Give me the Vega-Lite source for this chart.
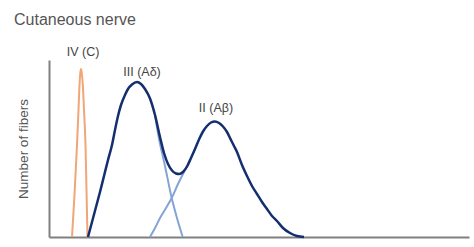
{
  "$schema": "https://vega.github.io/schema/vega-lite/v6.json",
  "width": 420,
  "height": 177,
  "autosize": {"type": "none"},
  "padding": {"left": 49, "top": 60, "right": 5, "bottom": 10},
  "config": {"view": {"stroke": null}, "font": "Liberation Sans"},
  "title": {"text": "Cutaneous nerve", "anchor": "start", "frame": "group", "dx": -35, "offset": 2, "baseline": "bottom", "fontSize": 16, "fontWeight": "normal", "color": "#555555", "font": "Liberation Sans"},
  "datasets": {
    "curves": [
      {"s": "II", "px": 150, "py": 237}, {"s": "II", "px": 155, "py": 228}, {"s": "II", "px": 160, "py": 218}, {"s": "II", "px": 166, "py": 208}, {"s": "II", "px": 171.7, "py": 198}, {"s": "II", "px": 178, "py": 184}, {"s": "II", "px": 183, "py": 174}, {"s": "II", "px": 187, "py": 166.5},
      {"s": "III", "px": 155, "py": 115}, {"s": "III", "px": 158.3, "py": 135}, {"s": "III", "px": 165, "py": 166}, {"s": "III", "px": 171.7, "py": 198}, {"s": "III", "px": 176.7, "py": 217}, {"s": "III", "px": 182.7, "py": 237},
      {"s": "IV", "px": 72, "py": 237}, {"s": "IV", "px": 74.5, "py": 195}, {"s": "IV", "px": 77, "py": 145}, {"s": "IV", "px": 78.5, "py": 110}, {"s": "IV", "px": 79.5, "py": 85}, {"s": "IV", "px": 80.3, "py": 73}, {"s": "IV", "px": 81, "py": 69}, {"s": "IV", "px": 81.8, "py": 73}, {"s": "IV", "px": 82.8, "py": 85}, {"s": "IV", "px": 84, "py": 110}, {"s": "IV", "px": 85.5, "py": 145}, {"s": "IV", "px": 86.5, "py": 190}, {"s": "IV", "px": 87.5, "py": 237},
      {"s": "env", "px": 88, "py": 237}, {"s": "env", "px": 92, "py": 222}, {"s": "env", "px": 96, "py": 207}, {"s": "env", "px": 100, "py": 192}, {"s": "env", "px": 104, "py": 176}, {"s": "env", "px": 108, "py": 160}, {"s": "env", "px": 112, "py": 145}, {"s": "env", "px": 115, "py": 130}, {"s": "env", "px": 118, "py": 116}, {"s": "env", "px": 121, "py": 105}, {"s": "env", "px": 125, "py": 95}, {"s": "env", "px": 128, "py": 89}, {"s": "env", "px": 132, "py": 84.5}, {"s": "env", "px": 137, "py": 82}, {"s": "env", "px": 141, "py": 84}, {"s": "env", "px": 145, "py": 89}, {"s": "env", "px": 150, "py": 98.5}, {"s": "env", "px": 155, "py": 115}, {"s": "env", "px": 160, "py": 137}, {"s": "env", "px": 164, "py": 153}, {"s": "env", "px": 168, "py": 164}, {"s": "env", "px": 172, "py": 170.5}, {"s": "env", "px": 176, "py": 173.5}, {"s": "env", "px": 179, "py": 174}, {"s": "env", "px": 183, "py": 172}, {"s": "env", "px": 187, "py": 166.5}, {"s": "env", "px": 191, "py": 158}, {"s": "env", "px": 195, "py": 149}, {"s": "env", "px": 199, "py": 139.5}, {"s": "env", "px": 203, "py": 131.5}, {"s": "env", "px": 207, "py": 126}, {"s": "env", "px": 211, "py": 122.5}, {"s": "env", "px": 215, "py": 121.5}, {"s": "env", "px": 219, "py": 123}, {"s": "env", "px": 223, "py": 126.5}, {"s": "env", "px": 227, "py": 132}, {"s": "env", "px": 231, "py": 140}, {"s": "env", "px": 234, "py": 146}, {"s": "env", "px": 237, "py": 152}, {"s": "env", "px": 242, "py": 165}, {"s": "env", "px": 247, "py": 176}, {"s": "env", "px": 252, "py": 186}, {"s": "env", "px": 257, "py": 194}, {"s": "env", "px": 262, "py": 202}, {"s": "env", "px": 267, "py": 209}, {"s": "env", "px": 272, "py": 216}, {"s": "env", "px": 277, "py": 221}, {"s": "env", "px": 283, "py": 228}, {"s": "env", "px": 290, "py": 233}, {"s": "env", "px": 297, "py": 236}, {"s": "env", "px": 304, "py": 237}
    ],
    "labels": [
      {"text": "IV (C)", "px": 83, "py": 52},
      {"text": "III (Aδ)", "px": 142, "py": 72},
      {"text": "II (Aβ)", "px": 216, "py": 108}
    ]
  },
  "encoding": {
    "x": {"field": "px", "type": "quantitative", "scale": {"domain": [49, 469], "zero": false, "nice": false}, "axis": {"title": null, "labels": false, "ticks": false, "grid": false, "domainColor": "#808080", "domainWidth": 2}},
    "y": {"field": "py", "type": "quantitative", "scale": {"domain": [237, 60], "zero": false, "nice": false}, "axis": {"title": "Number of fibers", "titleFontSize": 13.5, "titleFontWeight": "normal", "titleColor": "#555555", "titlePadding": 19, "labels": false, "ticks": false, "grid": false, "domainColor": "#808080", "domainWidth": 2}}
  },
  "layer": [
    {
      "data": {"name": "curves"},
      "transform": [{"filter": "datum.s === 'II' || datum.s === 'III'"}],
      "mark": {"type": "line", "interpolate": "monotone", "strokeWidth": 2, "color": "#86a3d6", "clip": false},
      "encoding": {"detail": {"field": "s"}}
    },
    {
      "data": {"name": "curves"},
      "transform": [{"filter": "datum.s === 'IV'"}],
      "mark": {"type": "line", "interpolate": "monotone", "strokeWidth": 2, "color": "#f0a677", "clip": false},
      "encoding": {}
    },
    {
      "data": {"name": "curves"},
      "transform": [{"filter": "datum.s === 'env'"}],
      "mark": {"type": "line", "interpolate": "monotone", "strokeWidth": 2.5, "color": "#142f6e", "clip": false},
      "encoding": {}
    },
    {
      "data": {"name": "labels"},
      "mark": {"type": "text", "fontSize": 12.5, "color": "#444444", "align": "center", "baseline": "middle", "font": "Liberation Sans"},
      "encoding": {"text": {"field": "text"}}
    }
  ]
}
